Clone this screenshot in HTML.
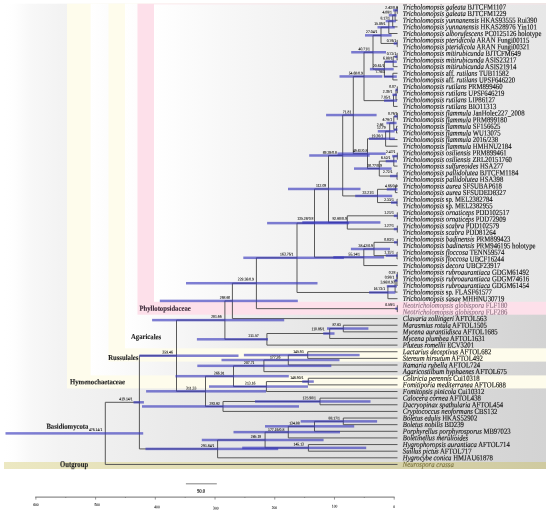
<!DOCTYPE html>
<html><head><meta charset="utf-8"><style>
html,body{margin:0;padding:0;background:#fff;}
body{width:550px;height:513px;overflow:hidden;}
svg{display:block;will-change:transform;}
</style></head><body>
<svg width="550" height="513" viewBox="0 0 550 513" font-family="Liberation Serif">
<defs>
<linearGradient id="gK" x1="0" x2="1" y1="0" y2="0"><stop offset="0" stop-color="#ece8c2"/><stop offset="1" stop-color="#cfcaa0"/></linearGradient>
<linearGradient id="gB" x1="0" x2="1" y1="0" y2="0"><stop offset="0" stop-color="rgb(255,255,255)"/><stop offset="0.018" stop-color="rgb(254,254,254)"/><stop offset="0.048" stop-color="rgb(248,248,248)"/><stop offset="0.103" stop-color="rgb(243,243,243)"/><stop offset="0.177" stop-color="rgb(240,240,240)"/><stop offset="0.306" stop-color="rgb(234,234,234)"/><stop offset="1" stop-color="rgb(211,211,211)"/></linearGradient>
<linearGradient id="gB2" x1="0" x2="1" y1="0" y2="0"><stop offset="0" stop-color="rgb(255,255,255)"/><stop offset="0.03" stop-color="rgb(253,253,253)"/><stop offset="0.18" stop-color="rgb(243,243,243)"/><stop offset="0.31" stop-color="rgb(236,236,236)"/><stop offset="1" stop-color="rgb(211,211,211)"/></linearGradient>
<linearGradient id="gB3" x1="0" x2="1" y1="0" y2="0"><stop offset="0" stop-color="rgb(255,255,255)"/><stop offset="0.03" stop-color="rgb(253,253,253)"/><stop offset="0.18" stop-color="rgb(243,243,243)"/><stop offset="0.31" stop-color="rgb(236,236,236)"/><stop offset="1" stop-color="rgb(211,211,211)"/></linearGradient>
<linearGradient id="gB4" x1="0" x2="1" y1="0" y2="0"><stop offset="0" stop-color="rgb(255,255,255)"/><stop offset="0.168" stop-color="rgb(248,248,248)"/><stop offset="0.296" stop-color="rgb(244,244,244)"/><stop offset="0.449" stop-color="rgb(240,240,240)"/><stop offset="1" stop-color="rgb(231,231,231)"/></linearGradient>
</defs>
<rect x="4" y="3.7" width="542" height="458.30" fill="url(#gB)"/><rect x="4" y="462.0" width="542" height="7.0" fill="url(#gK)"/><rect x="67" y="3.7" width="479" height="384.70" fill="#fefcec"/><rect x="90.6" y="3.7" width="455.4" height="371.70" fill="url(#gB2)"/><rect x="108.5" y="3.7" width="437.5" height="357.90" fill="#fefcec"/><rect x="125" y="3.7" width="421" height="344.60" fill="url(#gB3)"/><rect x="137.5" y="3.7" width="408.5" height="311.00" fill="#fde0ea"/><rect x="154" y="4.3" width="392" height="297.50" fill="url(#gB4)"/>
<path d="M397.20 6.98L397.20 13.61M397.20 6.98L397.50 6.98M397.20 13.61L397.50 13.61M395.10 10.29L395.10 20.24M395.10 10.29L397.20 10.29M395.10 20.24L397.50 20.24M392.70 15.27L392.70 26.87M392.70 15.27L395.10 15.27M392.70 26.87L397.50 26.87M388.80 21.07L388.80 33.50M388.80 21.07L392.70 21.07M388.80 33.50L397.50 33.50M397.20 40.13L397.20 46.76M397.20 40.13L397.50 40.13M397.20 46.76L397.50 46.76M381.00 27.28L381.00 43.45M381.00 27.28L388.80 27.28M381.00 43.45L397.20 43.45M397.10 53.39L397.10 60.02M397.10 53.39L397.50 53.39M397.10 60.02L397.50 60.02M393.20 56.70L393.20 66.65M393.20 56.70L397.10 56.70M393.20 66.65L397.50 66.65M392.90 73.28L392.90 79.91M392.90 73.28L397.50 73.28M392.90 79.91L397.50 79.91M384.40 61.68L384.40 76.59M384.40 61.68L393.20 61.68M384.40 76.59L392.90 76.59M373.00 35.36L373.00 69.14M373.00 35.36L381.00 35.36M373.00 69.14L384.40 69.14M397.30 86.54L397.30 93.17M397.30 86.54L397.50 86.54M397.30 93.17L397.50 93.17M396.00 89.85L396.00 99.80M396.00 89.85L397.30 89.85M396.00 99.80L397.50 99.80M393.50 94.83L393.50 106.43M393.50 94.83L396.00 94.83M393.50 106.43L397.50 106.43M364.00 52.25L364.00 100.63M364.00 52.25L373.00 52.25M364.00 100.63L393.50 100.63M397.30 113.06L397.30 119.69M397.30 113.06L397.50 113.06M397.30 119.69L397.50 119.69M396.50 126.32L396.50 132.95M396.50 126.32L397.50 126.32M396.50 132.95L397.50 132.95M393.80 116.38L393.80 129.63M393.80 116.38L397.30 116.38M393.80 129.63L396.50 129.63M389.70 123.00L389.70 139.58M389.70 123.00L393.80 123.00M389.70 139.58L397.50 139.58M385.60 131.29L385.60 146.21M385.60 131.29L389.70 131.29M385.60 146.21L397.50 146.21M397.30 152.84L397.30 159.47M397.30 152.84L397.50 152.84M397.30 159.47L397.50 159.47M393.80 156.16L393.80 166.10M393.80 156.16L397.30 156.16M393.80 166.10L397.50 166.10M397.00 172.73L397.00 179.36M397.00 172.73L397.50 172.73M397.00 179.36L397.50 179.36M379.30 161.13L379.30 176.04M379.30 161.13L393.80 161.13M379.30 176.04L397.00 176.04M367.50 138.75L367.50 168.59M367.50 138.75L385.60 138.75M367.50 168.59L379.30 168.59M353.30 76.44L353.30 153.67M353.30 76.44L364.00 76.44M353.30 153.67L367.50 153.67M395.40 185.99L395.40 192.62M395.40 185.99L397.50 185.99M395.40 192.62L397.50 192.62M397.00 199.25L397.00 205.88M397.00 199.25L397.50 199.25M397.00 205.88L397.50 205.88M377.50 189.31L377.50 202.56M377.50 189.31L395.40 189.31M377.50 202.56L397.00 202.56M342.70 115.05L342.70 195.94M342.70 115.05L353.30 115.05M342.70 195.94L377.50 195.94M397.30 212.51L397.30 219.14M397.30 212.51L397.50 212.51M397.30 219.14L397.50 219.14M397.30 225.77L397.30 232.40M397.30 225.77L397.50 225.77M397.30 232.40L397.50 232.40M347.30 215.82L347.30 229.08M347.30 215.82L397.30 215.82M347.30 229.08L397.30 229.08M328.50 155.49L328.50 222.45M328.50 155.49L342.70 155.49M328.50 222.45L347.30 222.45M397.30 239.03L397.30 245.66M397.30 239.03L397.50 239.03M397.30 245.66L397.50 245.66M397.00 252.29L397.00 258.92M397.00 252.29L397.50 252.29M397.00 258.92L397.50 258.92M374.00 242.34L374.00 255.61M374.00 242.34L397.30 242.34M374.00 255.61L397.00 255.61M363.80 248.98L363.80 265.55M363.80 248.98L374.00 248.98M363.80 265.55L397.50 265.55M314.50 188.97L314.50 257.26M314.50 188.97L328.50 188.97M314.50 257.26L363.80 257.26M397.30 272.18L397.30 278.81M397.30 272.18L397.50 272.18M397.30 278.81L397.50 278.81M396.90 275.50L396.90 285.44M396.90 275.50L397.30 275.50M396.90 285.44L397.50 285.44M395.10 280.47L395.10 292.07M395.10 280.47L396.90 280.47M395.10 292.07L397.50 292.07M387.90 286.27L387.90 298.70M387.90 286.27L395.10 286.27M387.90 298.70L397.50 298.70M297.00 223.12L297.00 292.48M297.00 223.12L314.50 223.12M297.00 292.48L387.90 292.48M397.30 305.33L397.30 311.96M397.30 305.33L397.50 305.33M397.30 311.96L397.50 311.96M256.40 257.80L256.40 308.65M256.40 257.80L297.00 257.80M256.40 308.65L397.30 308.65M232.40 283.22L232.40 318.59M232.40 283.22L256.40 283.22M232.40 318.59L397.50 318.59M343.30 325.22L343.30 331.85M343.30 325.22L397.50 325.22M343.30 331.85L397.50 331.85M329.70 328.54L329.70 338.48M329.70 328.54L343.30 328.54M329.70 338.48L397.50 338.48M266.90 333.51L266.90 345.11M266.90 333.51L329.70 333.51M266.90 345.11L397.50 345.11M224.90 300.91L224.90 339.31M224.90 300.91L232.40 300.91M224.90 339.31L266.90 339.31M307.70 351.74L307.70 358.37M307.70 351.74L397.50 351.74M307.70 358.37L397.50 358.37M288.30 355.06L288.30 365.00M288.30 355.06L307.70 355.06M288.30 365.00L397.50 365.00M263.90 360.03L263.90 371.63M263.90 360.03L288.30 360.03M263.90 371.63L397.50 371.63M308.30 378.26L308.30 384.89M308.30 378.26L397.50 378.26M308.30 384.89L397.50 384.89M266.40 381.58L266.40 391.52M266.40 381.58L308.30 381.58M266.40 391.52L397.50 391.52M233.50 365.83L233.50 386.55M233.50 365.83L263.90 365.83M233.50 386.55L266.40 386.55M320.00 398.15L320.00 404.78M320.00 398.15L397.50 398.15M320.00 404.78L397.50 404.78M223.00 401.47L223.00 411.41M223.00 401.47L320.00 401.47M223.00 411.41L397.50 411.41M205.50 376.19L205.50 406.44M205.50 376.19L233.50 376.19M205.50 406.44L223.00 406.44M176.50 320.11L176.50 391.31M176.50 320.11L224.90 320.11M176.50 391.31L205.50 391.31M343.30 418.04L343.30 424.67M343.30 418.04L397.50 418.04M343.30 424.67L397.50 424.67M314.50 421.36L314.50 431.30M314.50 421.36L343.30 421.36M314.50 431.30L397.50 431.30M288.30 426.33L288.30 437.93M288.30 426.33L314.50 426.33M288.30 437.93L397.50 437.93M308.40 444.56L308.40 451.19M308.40 444.56L397.50 444.56M308.40 451.19L397.50 451.19M265.10 432.13L265.10 447.88M265.10 432.13L288.30 432.13M265.10 447.88L308.40 447.88M217.60 440.00L217.60 457.82M217.60 440.00L265.10 440.00M217.60 457.82L397.50 457.82M139.40 355.71L139.40 448.91M139.40 355.71L176.50 355.71M139.40 448.91L217.60 448.91M105.30 402.31L105.30 464.45M105.30 402.31L139.40 402.31M105.30 464.45L397.50 464.45" stroke="#505050" stroke-width="0.95" fill="none"/>
<g fill="#3636bc" fill-opacity="0.64"><rect x="393.10" y="9.04" width="4.70" height="2.5"/><rect x="388.80" y="14.02" width="7.80" height="2.5"/><rect x="385.70" y="19.82" width="10.20" height="2.5"/><rect x="377.50" y="26.03" width="17.20" height="2.5"/><rect x="393.70" y="42.20" width="3.60" height="2.5"/><rect x="365.00" y="34.11" width="26.60" height="2.5"/><rect x="394.70" y="55.45" width="2.60" height="2.5"/><rect x="384.90" y="60.43" width="11.90" height="2.5"/><rect x="383.90" y="75.34" width="12.90" height="2.5"/><rect x="369.90" y="67.89" width="23.80" height="2.5"/><rect x="351.20" y="51.00" width="34.80" height="2.5"/><rect x="395.50" y="88.60" width="2.10" height="2.5"/><rect x="392.40" y="93.58" width="4.60" height="2.5"/><rect x="384.00" y="99.38" width="13.00" height="2.5"/><rect x="339.50" y="75.19" width="42.80" height="2.5"/><rect x="394.20" y="115.12" width="3.30" height="2.5"/><rect x="394.00" y="128.38" width="3.50" height="2.5"/><rect x="386.40" y="121.75" width="10.20" height="2.5"/><rect x="377.80" y="130.04" width="16.80" height="2.5"/><rect x="369.00" y="137.50" width="25.80" height="2.5"/><rect x="392.20" y="154.91" width="5.30" height="2.5"/><rect x="385.70" y="159.88" width="11.30" height="2.5"/><rect x="390.00" y="174.79" width="7.50" height="2.5"/><rect x="354.00" y="167.34" width="37.60" height="2.5"/><rect x="337.50" y="152.42" width="48.20" height="2.5"/><rect x="326.10" y="113.80" width="50.50" height="2.5"/><rect x="386.80" y="188.06" width="10.70" height="2.5"/><rect x="391.00" y="201.31" width="6.50" height="2.5"/><rect x="355.20" y="194.69" width="37.00" height="2.5"/><rect x="309.20" y="154.24" width="60.40" height="2.5"/><rect x="393.80" y="214.57" width="3.70" height="2.5"/><rect x="393.80" y="227.83" width="3.70" height="2.5"/><rect x="302.30" y="221.20" width="78.10" height="2.5"/><rect x="288.00" y="187.72" width="72.50" height="2.5"/><rect x="394.00" y="241.09" width="3.50" height="2.5"/><rect x="385.70" y="254.36" width="11.80" height="2.5"/><rect x="350.90" y="247.73" width="39.10" height="2.5"/><rect x="333.30" y="256.01" width="50.80" height="2.5"/><rect x="267.10" y="221.87" width="82.00" height="2.5"/><rect x="396.00" y="274.25" width="1.60" height="2.5"/><rect x="394.50" y="279.22" width="3.00" height="2.5"/><rect x="386.80" y="285.02" width="10.20" height="2.5"/><rect x="369.10" y="291.23" width="26.30" height="2.5"/><rect x="243.30" y="256.55" width="100.60" height="2.5"/><rect x="395.40" y="307.40" width="2.10" height="2.5"/><rect x="186.00" y="281.97" width="131.50" height="2.5"/><rect x="159.80" y="299.66" width="138.00" height="2.5"/><rect x="327.00" y="327.29" width="41.40" height="2.5"/><rect x="323.20" y="332.26" width="11.30" height="2.5"/><rect x="196.90" y="338.06" width="71.10" height="2.5"/><rect x="152.10" y="318.86" width="132.10" height="2.5"/><rect x="243.90" y="353.81" width="115.70" height="2.5"/><rect x="221.50" y="358.78" width="118.00" height="2.5"/><rect x="197.30" y="364.58" width="134.00" height="2.5"/><rect x="302.20" y="380.33" width="11.60" height="2.5"/><rect x="209.00" y="385.30" width="99.00" height="2.5"/><rect x="175.50" y="374.94" width="113.30" height="2.5"/><rect x="255.00" y="400.22" width="115.50" height="2.5"/><rect x="142.00" y="405.19" width="157.00" height="2.5"/><rect x="146.10" y="390.06" width="119.90" height="2.5"/><rect x="139.40" y="354.46" width="99.10" height="2.5"/><rect x="300.70" y="420.11" width="76.40" height="2.5"/><rect x="265.00" y="425.08" width="89.20" height="2.5"/><rect x="233.50" y="430.88" width="106.50" height="2.5"/><rect x="242.20" y="446.62" width="124.00" height="2.5"/><rect x="201.80" y="438.75" width="121.80" height="2.5"/><rect x="145.50" y="447.66" width="132.70" height="2.5"/><rect x="133.50" y="401.06" width="10.40" height="2.5"/><rect x="5.50" y="432.13" width="137.70" height="2.5"/></g>
<g font-size="3.8" fill="#111" text-anchor="end" stroke="#111" stroke-width="0.08"><text transform="matrix(1,0.0009,-0.0009,1.1,397.80,8.70)">2.43/0.8</text><text transform="matrix(1,0.0009,-0.0009,1.1,392.00,13.40)">4.08/1</text><text transform="matrix(1,0.0009,-0.0009,1.1,390.00,19.60)">8.17/1</text><text transform="matrix(1,0.0009,-0.0009,1.1,385.70,25.10)">15.09/1</text><text transform="matrix(1,0.0009,-0.0009,1.1,396.30,42.00)">0.76/1</text><text transform="matrix(1,0.0009,-0.0009,1.1,377.50,32.90)">27.04/1</text><text transform="matrix(1,0.0009,-0.0009,1.1,396.30,55.00)">0.72/1</text><text transform="matrix(1,0.0009,-0.0009,1.1,392.70,59.60)">6.88/1</text><text transform="matrix(1,0.0009,-0.0009,1.1,385.00,73.10)">7.76/1</text><text transform="matrix(1,0.0009,-0.0009,1.1,384.40,66.90)">20.61/1</text><text transform="matrix(1,0.0009,-0.0009,1.1,370.00,50.30)">40.71/1</text><text transform="matrix(1,0.0009,-0.0009,1.1,395.80,87.80)">0.07</text><text transform="matrix(1,0.0009,-0.0009,1.1,392.40,92.80)">2.39/1</text><text transform="matrix(1,0.0009,-0.0009,1.1,390.70,98.50)">7.05/1</text><text transform="matrix(1,0.0009,-0.0009,1.1,363.00,74.60)">54.60/0.9</text><text transform="matrix(1,0.0009,-0.0009,1.1,397.50,114.70)">0.76/1</text><text transform="matrix(1,0.0009,-0.0009,1.1,383.50,126.10)">2.66</text><text transform="matrix(1,0.0009,-0.0009,1.1,392.10,120.80)">4.76/1</text><text transform="matrix(1,0.0009,-0.0009,1.1,385.60,128.80)">12.79</text><text transform="matrix(1,0.0009,-0.0009,1.1,383.10,137.30)">19.36/1</text><text transform="matrix(1,0.0009,-0.0009,1.1,395.50,153.10)">2.47/1</text><text transform="matrix(1,0.0009,-0.0009,1.1,390.50,159.00)">6.52/1</text><text transform="matrix(1,0.0009,-0.0009,1.1,392.70,173.10)">2.72/1</text><text transform="matrix(1,0.0009,-0.0009,1.1,381.80,166.80)">30.77/0.9</text><text transform="matrix(1,0.0009,-0.0009,1.1,367.30,151.90)">49.67/0.8</text><text transform="matrix(1,0.0009,-0.0009,1.1,351.30,113.30)">71.81</text><text transform="matrix(1,0.0009,-0.0009,1.1,397.50,187.30)">4.66/0.9</text><text transform="matrix(1,0.0009,-0.0009,1.1,393.80,200.90)">2.33/1</text><text transform="matrix(1,0.0009,-0.0009,1.1,374.00,193.80)">32.21/1</text><text transform="matrix(1,0.0009,-0.0009,1.1,337.00,153.70)">89.28/0.8</text><text transform="matrix(1,0.0009,-0.0009,1.1,393.80,213.80)">1.21/1</text><text transform="matrix(1,0.0009,-0.0009,1.1,393.80,226.70)">1.27/1</text><text transform="matrix(1,0.0009,-0.0009,1.1,346.80,219.70)">82.60/0.9</text><text transform="matrix(1,0.0009,-0.0009,1.1,326.20,186.80)">112.09</text><text transform="matrix(1,0.0009,-0.0009,1.1,393.80,240.80)">0.83/1</text><text transform="matrix(1,0.0009,-0.0009,1.1,393.80,253.40)">1.11/1</text><text transform="matrix(1,0.0009,-0.0009,1.1,372.90,247.00)">38.42/0.9</text><text transform="matrix(1,0.0009,-0.0009,1.1,360.00,255.60)">55.14/1</text><text transform="matrix(1,0.0009,-0.0009,1.1,313.40,219.70)">135.28/0.8</text><text transform="matrix(1,0.0009,-0.0009,1.1,395.40,273.80)">0.28</text><text transform="matrix(1,0.0009,-0.0009,1.1,394.30,278.60)">0.98/1</text><text transform="matrix(1,0.0009,-0.0009,1.1,394.80,283.50)">3.96/0.97</text><text transform="matrix(1,0.0009,-0.0009,1.1,385.20,289.90)">16.73/1</text><text transform="matrix(1,0.0009,-0.0009,1.1,293.50,255.50)">163.76/1</text><text transform="matrix(1,0.0009,-0.0009,1.1,394.80,306.10)">0.59/1</text><text transform="matrix(1,0.0009,-0.0009,1.1,254.00,280.60)">229.36/0.9</text><text transform="matrix(1,0.0009,-0.0009,1.1,230.20,298.80)">268.60</text><text transform="matrix(1,0.0009,-0.0009,1.1,341.00,326.00)">87.63</text><text transform="matrix(1,0.0009,-0.0009,1.1,324.70,330.30)">110.86/1</text><text transform="matrix(1,0.0009,-0.0009,1.1,258.70,336.90)">211.57</text><text transform="matrix(1,0.0009,-0.0009,1.1,221.60,317.80)">281.66</text><text transform="matrix(1,0.0009,-0.0009,1.1,303.60,353.00)">145.93</text><text transform="matrix(1,0.0009,-0.0009,1.1,280.40,358.60)">177.26</text><text transform="matrix(1,0.0009,-0.0009,1.1,254.50,364.10)">207.71</text><text transform="matrix(1,0.0009,-0.0009,1.1,303.60,379.00)">146.90/1</text><text transform="matrix(1,0.0009,-0.0009,1.1,255.50,384.60)">213.16</text><text transform="matrix(1,0.0009,-0.0009,1.1,224.50,374.50)">266.91</text><text transform="matrix(1,0.0009,-0.0009,1.1,316.00,399.30)">125.90/1</text><text transform="matrix(1,0.0009,-0.0009,1.1,220.00,404.70)">283.62</text><text transform="matrix(1,0.0009,-0.0009,1.1,196.40,389.40)">311.33</text><text transform="matrix(1,0.0009,-0.0009,1.1,172.80,353.40)">359.46</text><text transform="matrix(1,0.0009,-0.0009,1.1,340.00,419.50)">88.17/1</text><text transform="matrix(1,0.0009,-0.0009,1.1,299.60,424.50)">134.88</text><text transform="matrix(1,0.0009,-0.0009,1.1,284.30,431.10)">177.19/0.8</text><text transform="matrix(1,0.0009,-0.0009,1.1,304.00,445.50)">145.13</text><text transform="matrix(1,0.0009,-0.0009,1.1,261.20,437.70)">245.18</text><text transform="matrix(1,0.0009,-0.0009,1.1,214.50,447.10)">291.84/1</text><text transform="matrix(1,0.0009,-0.0009,1.1,132.70,400.30)">419.14/1</text><text transform="matrix(1,0.0009,-0.0009,1.1,102.30,430.90)">476.14/1</text></g>
<g font-size="6.7" fill="#111" stroke="#111" stroke-width="0.12" opacity="0.99"><text transform="matrix(1,0.0009,-0.0009,1.15,402.8,9.38)"><tspan font-style="italic">Tricholomopsis galeata</tspan> BJTCFM1107</text><text transform="matrix(1,0.0009,-0.0009,1.15,402.8,16.01)"><tspan font-style="italic">Tricholomopsis galeata</tspan> BJTCFM1229</text><text transform="matrix(1,0.0009,-0.0009,1.15,402.8,22.64)"><tspan font-style="italic">Tricholomopsis yunnanensis</tspan> HKAS93555 Rui390</text><text transform="matrix(1,0.0009,-0.0009,1.15,402.8,29.27)"><tspan font-style="italic">Tricholomopsis yunnanensis</tspan> HKAS28976 Yin101</text><text transform="matrix(1,0.0009,-0.0009,1.15,402.8,35.90)"><tspan font-style="italic">Tricholomopsis alborufescens</tspan> PC0125126 holotype</text><text transform="matrix(1,0.0009,-0.0009,1.15,402.8,42.53)"><tspan font-style="italic">Tricholomopsis pteridicola</tspan> ARAN Fungi00115</text><text transform="matrix(1,0.0009,-0.0009,1.15,402.8,49.16)"><tspan font-style="italic">Tricholomopsis pteridicola</tspan> ARAN Fungi00321</text><text transform="matrix(1,0.0009,-0.0009,1.15,402.8,55.79)"><tspan font-style="italic">Tricholomopsis mitirubicunda</tspan> BJTCFM649</text><text transform="matrix(1,0.0009,-0.0009,1.15,402.8,62.42)"><tspan font-style="italic">Tricholomopsis mitirubicunda</tspan> ASIS23217</text><text transform="matrix(1,0.0009,-0.0009,1.15,402.8,69.05)"><tspan font-style="italic">Tricholomopsis mitirubicunda</tspan> ASIS21914</text><text transform="matrix(1,0.0009,-0.0009,1.15,402.8,75.68)"><tspan font-style="italic">Tricholomopsis </tspan>aff. <tspan font-style="italic">rutilans</tspan> TUB11582</text><text transform="matrix(1,0.0009,-0.0009,1.15,402.8,82.31)"><tspan font-style="italic">Tricholomopsis </tspan>aff. <tspan font-style="italic">rutilans</tspan> UPSF646220</text><text transform="matrix(1,0.0009,-0.0009,1.15,402.8,88.94)"><tspan font-style="italic">Tricholomopsis rutilans</tspan> PRM899460</text><text transform="matrix(1,0.0009,-0.0009,1.15,402.8,95.57)"><tspan font-style="italic">Tricholomopsis rutilans</tspan> UPSF646219</text><text transform="matrix(1,0.0009,-0.0009,1.15,402.8,102.20)"><tspan font-style="italic">Tricholomopsis rutilans</tspan> LIP86127</text><text transform="matrix(1,0.0009,-0.0009,1.15,402.8,108.83)"><tspan font-style="italic">Tricholomopsis rutilans</tspan> BIO11313</text><text transform="matrix(1,0.0009,-0.0009,1.15,402.8,115.46)"><tspan font-style="italic">Tricholomopsis flammula</tspan> JanHolec227_2008</text><text transform="matrix(1,0.0009,-0.0009,1.15,402.8,122.09)"><tspan font-style="italic">Tricholomopsis flammula</tspan> PRM899180</text><text transform="matrix(1,0.0009,-0.0009,1.15,402.8,128.72)"><tspan font-style="italic">Tricholomopsis flammula</tspan> SF156625</text><text transform="matrix(1,0.0009,-0.0009,1.15,402.8,135.35)"><tspan font-style="italic">Tricholomopsis flammula</tspan> WU13075</text><text transform="matrix(1,0.0009,-0.0009,1.15,402.8,141.98)"><tspan font-style="italic">Tricholomopsis flammula</tspan> 2016/238</text><text transform="matrix(1,0.0009,-0.0009,1.15,402.8,148.61)"><tspan font-style="italic">Tricholomopsis flammula</tspan> HMHNU2184</text><text transform="matrix(1,0.0009,-0.0009,1.15,402.8,155.24)"><tspan font-style="italic">Tricholomopsis osiliensis</tspan> PRM899461</text><text transform="matrix(1,0.0009,-0.0009,1.15,402.8,161.87)"><tspan font-style="italic">Tricholomopsis osiliensis</tspan> ZRL20151760</text><text transform="matrix(1,0.0009,-0.0009,1.15,402.8,168.50)"><tspan font-style="italic">Tricholomopsis sulfureoides</tspan> HSA277</text><text transform="matrix(1,0.0009,-0.0009,1.15,402.8,175.13)"><tspan font-style="italic">Tricholomopsis pallidolutea</tspan> BJTCFM1184</text><text transform="matrix(1,0.0009,-0.0009,1.15,402.8,181.76)"><tspan font-style="italic">Tricholomopsis pallidolutea</tspan> HSA398</text><text transform="matrix(1,0.0009,-0.0009,1.15,402.8,188.39)"><tspan font-style="italic">Tricholomopsis aurea</tspan> SFSUBAP618</text><text transform="matrix(1,0.0009,-0.0009,1.15,402.8,195.02)"><tspan font-style="italic">Tricholomopsis aurea</tspan> SFSUDED8327</text><text transform="matrix(1,0.0009,-0.0009,1.15,402.8,201.65)"><tspan font-style="italic">Tricholomopsis</tspan> sp. MEL2382784</text><text transform="matrix(1,0.0009,-0.0009,1.15,402.8,208.28)"><tspan font-style="italic">Tricholomopsis</tspan> sp. MEL2382955</text><text transform="matrix(1,0.0009,-0.0009,1.15,402.8,214.91)"><tspan font-style="italic">Tricholomopsis ornaticeps</tspan> PDD102517</text><text transform="matrix(1,0.0009,-0.0009,1.15,402.8,221.54)"><tspan font-style="italic">Tricholomopsis ornaticeps</tspan> PDD72909</text><text transform="matrix(1,0.0009,-0.0009,1.15,402.8,228.17)"><tspan font-style="italic">Tricholomopsis scabra</tspan> PDD102579</text><text transform="matrix(1,0.0009,-0.0009,1.15,402.8,234.80)"><tspan font-style="italic">Tricholomopsis scabra</tspan> PDD81264</text><text transform="matrix(1,0.0009,-0.0009,1.15,402.8,241.43)"><tspan font-style="italic">Tricholomopsis badinensis</tspan> PRM899423</text><text transform="matrix(1,0.0009,-0.0009,1.15,402.8,248.06)"><tspan font-style="italic">Tricholomopsis badinensis</tspan> PRM946195 holotype</text><text transform="matrix(1,0.0009,-0.0009,1.15,402.8,254.69)"><tspan font-style="italic">Tricholomopsis floccosa</tspan> TENN59574</text><text transform="matrix(1,0.0009,-0.0009,1.15,402.8,261.32)"><tspan font-style="italic">Tricholomopsis floccosa</tspan> UBCF16244</text><text transform="matrix(1,0.0009,-0.0009,1.15,402.8,267.95)"><tspan font-style="italic">Tricholomopsis decora</tspan> UBCF23917</text><text transform="matrix(1,0.0009,-0.0009,1.15,402.8,274.58)"><tspan font-style="italic">Tricholomopsis rubroaurantiaca</tspan> GDGM61492</text><text transform="matrix(1,0.0009,-0.0009,1.15,402.8,281.21)"><tspan font-style="italic">Tricholomopsis rubroaurantiaca</tspan> GDGM74616</text><text transform="matrix(1,0.0009,-0.0009,1.15,402.8,287.84)"><tspan font-style="italic">Tricholomopsis rubroaurantiaca</tspan> GDGM61454</text><text transform="matrix(1,0.0009,-0.0009,1.15,402.8,294.47)"><tspan font-style="italic">Tricholomopsis</tspan> sp. FLASF61577</text><text transform="matrix(1,0.0009,-0.0009,1.15,402.8,301.10)"><tspan font-style="italic">Tricholomopsis sasae</tspan> MHHNU30719</text><text transform="matrix(1,0.0009,-0.0009,1.15,402.8,307.73)" fill="#8d7283" stroke="#8d7283"><tspan font-style="italic">Neotricholomopsis globispora</tspan> FLF180</text><text transform="matrix(1,0.0009,-0.0009,1.15,402.8,314.36)" fill="#8d7283" stroke="#8d7283"><tspan font-style="italic">Neotricholomopsis globispora</tspan> FLF286</text><text transform="matrix(1,0.0009,-0.0009,1.15,402.8,320.99)"><tspan font-style="italic">Clavaria zollingeri</tspan> AFTOL563</text><text transform="matrix(1,0.0009,-0.0009,1.15,402.8,327.62)"><tspan font-style="italic">Marasmius rotula</tspan> AFTOL1505</text><text transform="matrix(1,0.0009,-0.0009,1.15,402.8,334.25)"><tspan font-style="italic">Mycena aurantiidisca</tspan> AFTOL1685</text><text transform="matrix(1,0.0009,-0.0009,1.15,402.8,340.88)"><tspan font-style="italic">Mycena plumbea</tspan> AFTOL1631</text><text transform="matrix(1,0.0009,-0.0009,1.15,402.8,347.51)"><tspan font-style="italic">Pluteus romellii</tspan> ECV3201</text><text transform="matrix(1,0.0009,-0.0009,1.15,402.8,354.14)"><tspan font-style="italic">Lactarius deceptivus</tspan> AFTOL682</text><text transform="matrix(1,0.0009,-0.0009,1.15,402.8,360.77)"><tspan font-style="italic">Stereum hirsutum</tspan> AFTOL492</text><text transform="matrix(1,0.0009,-0.0009,1.15,402.8,367.40)"><tspan font-style="italic">Ramaria rubella</tspan> AFTOL724</text><text transform="matrix(1,0.0009,-0.0009,1.15,402.8,374.03)"><tspan font-style="italic">Agaricostilbum hyphaenes</tspan> AFTOL675</text><text transform="matrix(1,0.0009,-0.0009,1.15,402.8,380.66)"><tspan font-style="italic">Coltricia perennis</tspan> Cui10318</text><text transform="matrix(1,0.0009,-0.0009,1.15,402.8,387.29)"><tspan font-style="italic">Fomitiporia mediterranea</tspan> AFTOL688</text><text transform="matrix(1,0.0009,-0.0009,1.15,402.8,393.92)"><tspan font-style="italic">Fomitopsis pinicola</tspan> Cui10312</text><text transform="matrix(1,0.0009,-0.0009,1.15,402.8,400.55)"><tspan font-style="italic">Calocera cornea</tspan> AFTOL438</text><text transform="matrix(1,0.0009,-0.0009,1.15,402.8,407.18)"><tspan font-style="italic">Dacryopinax spathularia</tspan> AFTOL454</text><text transform="matrix(1,0.0009,-0.0009,1.15,402.8,413.81)"><tspan font-style="italic">Cryptococcus neoformans</tspan> CBS132</text><text transform="matrix(1,0.0009,-0.0009,1.15,402.8,420.44)"><tspan font-style="italic">Boletus edulis</tspan> HKAS52902</text><text transform="matrix(1,0.0009,-0.0009,1.15,402.8,427.07)"><tspan font-style="italic">Boletus nobilis</tspan> BD239</text><text transform="matrix(1,0.0009,-0.0009,1.15,402.8,433.70)"><tspan font-style="italic">Porphyrellus porphyrosporus</tspan> MB97023</text><text transform="matrix(1,0.0009,-0.0009,1.15,402.8,440.33)"><tspan font-style="italic">Boletinellus merulioides</tspan></text><text transform="matrix(1,0.0009,-0.0009,1.15,402.8,446.96)"><tspan font-style="italic">Hygrophoropsis aurantiaca</tspan> AFTOL714</text><text transform="matrix(1,0.0009,-0.0009,1.15,402.8,453.59)"><tspan font-style="italic">Suillus pictus</tspan> AFTOL717</text><text transform="matrix(1,0.0009,-0.0009,1.15,402.8,460.22)"><tspan font-style="italic">Hygrocybe conica</tspan> HMJAU61878</text><text transform="matrix(1,0.0009,-0.0009,1.15,402.8,466.85)" fill="#77703c" stroke="#77703c"><tspan font-style="italic">Neurospora crassa</tspan></text></g>
<g font-size="6.7" font-weight="bold" stroke="#222" stroke-width="0.1"><text transform="matrix(1,0.0009,-0.0009,1.12,139.4,310.80)" fill="#3a2838" stroke="#3a2838">Phyllotopsidaceae</text><text transform="matrix(1,0.0009,-0.0009,1.12,131.0,339.11)" fill="#222" stroke="#222">Agaricales</text><text transform="matrix(1,0.0009,-0.0009,1.12,108.2,360.10)" fill="#222" stroke="#222">Russulales</text><text transform="matrix(1,0.0009,-0.0009,1.12,70.0,384.29)" fill="#222" stroke="#222">Hymenochaetaceae</text><text transform="matrix(1,0.0009,-0.0009,1.12,46.4,428.70)" fill="#222" stroke="#222">Basidiomycota</text><text transform="matrix(1,0.0009,-0.0009,1.12,60.0,466.85)" fill="#222" stroke="#222">Outgroup</text></g>
<path d="M35.2 497.0H394.6" stroke="#8c8c8c" stroke-width="1.25" fill="none"/><path d="M394.20 497.0V499.60M364.34 497.0V498.00M334.48 497.0V499.60M304.62 497.0V498.00M274.76 497.0V499.60M244.90 497.0V498.00M215.04 497.0V499.60M185.18 497.0V498.00M155.32 497.0V499.60M125.46 497.0V498.00M95.60 497.0V499.60M65.74 497.0V498.00M35.88 497.0V499.60" stroke="#6a6a6a" stroke-width="0.7" fill="none"/><g font-size="3.7" fill="#333" stroke="#333" stroke-width="0.1"><text transform="matrix(1,0.0009,-0.0009,1.1,394.20,507.90)" text-anchor="middle">0</text><text transform="matrix(1,0.0009,-0.0009,1.1,334.60,507.50)" text-anchor="middle">100</text><text transform="matrix(1,0.0009,-0.0009,1.1,274.40,509.10)" text-anchor="middle">200</text><text transform="matrix(1,0.0009,-0.0009,1.1,215.80,509.60)" text-anchor="middle">300</text><text transform="matrix(1,0.0009,-0.0009,1.1,157.00,508.20)" text-anchor="middle">400</text><text transform="matrix(1,0.0009,-0.0009,1.1,97.20,505.90)" text-anchor="middle">500</text><text transform="matrix(1,0.0009,-0.0009,1.1,35.90,505.90)" text-anchor="middle">600</text></g><path d="M185.9 483.8H216.8" stroke="#8c8c8c" stroke-width="1.1" fill="none"/><text transform="matrix(1,0.0009,-0.0009,1.05,201,492.4)" text-anchor="middle" font-size="4.7" fill="#222" stroke="#222" stroke-width="0.16">50.0</text>
</svg>
</body></html>
